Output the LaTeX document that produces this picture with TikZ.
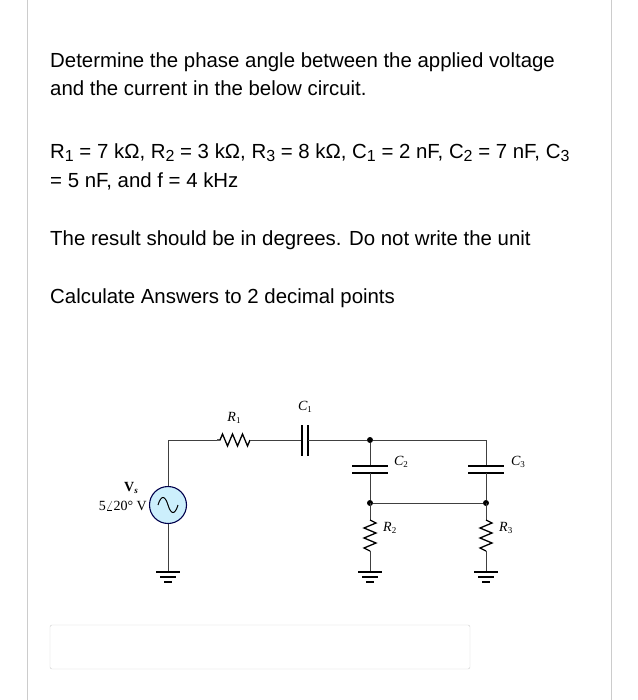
\documentclass[tikz,border=0pt]{standalone}
\usepackage{fontspec}
\setmainfont{Liberation Sans}
\newfontfamily\serif{Liberation Serif}
\newcommand{\sbs}[1]{\raisebox{-3pt}{\fontsize{16}{18}\selectfont #1}}
\newcommand{\isub}[1]{\raisebox{-2pt}{\fontsize{9}{10}\selectfont\upshape #1}}
\begin{document}
\begin{tikzpicture}[x=1pt,y=-1pt,
  txt/.style={anchor=base west,inner sep=0pt,font=\fontsize{20.4}{24}\selectfont},
  lab/.style={inner sep=0pt,font=\serif\fontsize{14}{16}\selectfont\itshape},
  wire/.style={line width=0.7pt,color=black!75},
  res/.style={line width=1.3pt,line join=miter},
  dot/.style={circle,fill=black,inner sep=0pt,minimum size=6pt},
  gnd/.style={line width=1.4pt}]
\useasboundingbox (0,0) rectangle (637,700);
\draw[black!20,line width=0.8pt] (27,0) -- (27,700) (611,0) -- (611,700);
\node[txt] (t1) at (50,68) {Determine the phase angle between the applied voltage};
\node[txt] (t2) at (50,96) {and the current in the below circuit.};
\node[txt] (t3) at (50,159) {R\sbs{1} = 7 kΩ, R\sbs{2} = 3 kΩ, R\sbs{3} = 8 kΩ, C\sbs{1} = 2 nF, C\sbs{2} = 7 nF, C\sbs{3}};
\node[txt] (t4) at (50,188) {= 5 nF, and f = 4 kHz};
\node[txt] (t5) at (50,246) {The result should be in degrees. Do not write the unit};
\node[txt] (t6) at (50,303) {Calculate Answers to 2 decimal points};
\draw[black!20,rounded corners=2pt] (50,625) rectangle (470,669);
% circuit
\coordinate (tl) at (168,440);
\node[circle,draw=black!70!blue,fill=cyan!20,line width=1.1pt,minimum size=37pt,inner sep=0pt] (src) at (168,505) {};
\draw[line width=1pt] (src.center) ++(-10,0) .. controls +(3,-10) and +(-3,-10) .. +(10,0) .. controls +(3,10) and +(-3,10) .. +(20,0);
\node[inner sep=0pt,anchor=east,font=\serif\fontsize{14}{16}\selectfont] (vl) at (147,506) {5$\angle$20\textdegree\ V};
\node[inner sep=0pt,font=\serif\bfseries\fontsize{14}{16}\selectfont] (vs) at (131,488) {V\isub{\itshape s}};
\coordinate (g0) at (168,572);
\draw[wire] (src) -- (g0) (src) -- (tl) -- (217,440);
\draw[res] (217,440) -- (220,440) -- (222.5,434) -- (227.5,446) -- (232.5,434) -- (237.5,446) -- (242.5,434) -- (247.5,446) -- (250,440);
\draw[wire] (250,440) -- (302,440);
\node[lab] (r1) at (234,418) {R\isub{1}};
\draw[line width=1.3pt] (302,425) -- (302,456) (308,425) -- (308,456);
\node[lab] (c1) at (305,407) {C\isub{1}};
\node[dot] (n1) at (370,440) {};
\draw[wire] (308,440) -- (n1) -- (486,440) -- (486,466);
\draw[wire] (n1) -- (370,466);
\draw[line width=1.3pt] (352,466) -- (388,466) (352,473) -- (388,473) (468,466) -- (504,466) (468,473) -- (504,473);
\node[lab] (c2) at (401,462) {C\isub{2}};
\node[lab] (c3) at (518,462) {C\isub{3}};
\node[dot] (n2) at (370,503) {};
\node[dot] (n3) at (486,503) {};
\draw[wire] (370,473) -- (n2) -- (n3) -- (486,473);
\foreach \x/\n in {370/2,486/3}{
  \draw[wire] (\x,503) -- (\x,520);
  \draw[res] (\x,520) -- (\x+6,523) -- (\x-6,528) -- (\x+6,533) -- (\x-6,538) -- (\x+6,543) -- (\x-6,548) -- (\x,551);
  \draw[wire] (\x,551) -- (\x,572);
  \draw[gnd] (\x-12,572) -- (\x+12,572) (\x-8,577) -- (\x+8,577) (\x-4,582) -- (\x+4,582);
}
\node[lab,anchor=west] (r2) at (383,528) {R\isub{2}};
\node[lab,anchor=west] (r3) at (499,528) {R\isub{3}};
\draw[gnd] (156,572) -- (180,572) (160,577) -- (176,577) (164,582) -- (172,582);
\end{tikzpicture}
\end{document}
